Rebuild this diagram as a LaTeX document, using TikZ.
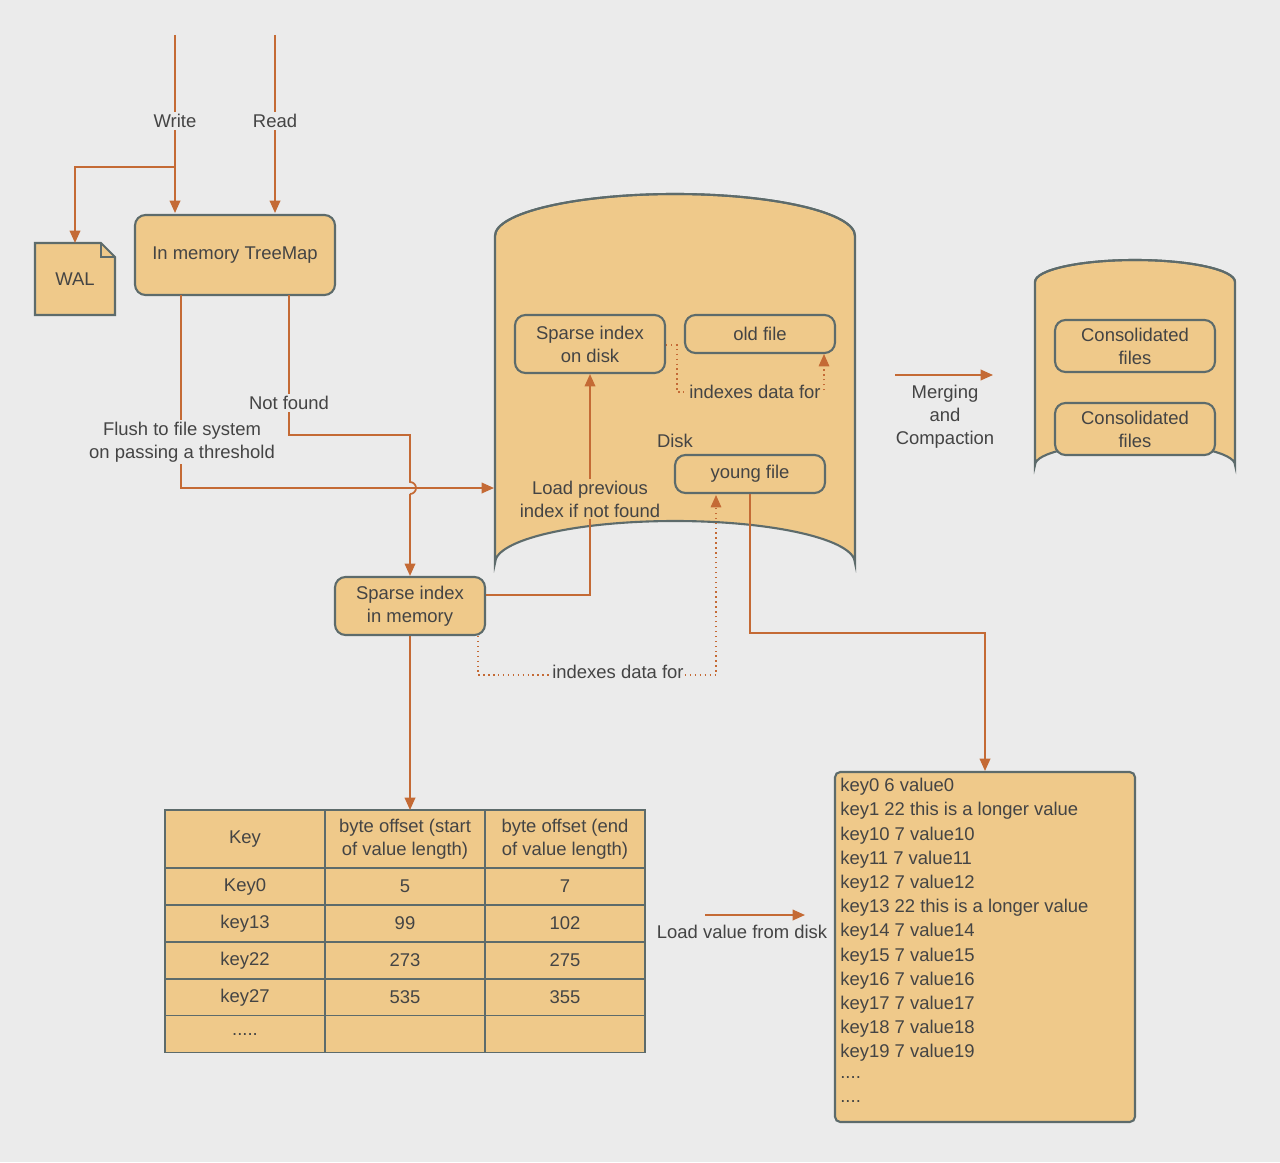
\documentclass[tikz,border=0pt]{standalone}
\usepackage{fontspec}
\setmainfont{Liberation Sans}
\usetikzlibrary{arrows.meta,shapes.geometric}
\definecolor{bg}{HTML}{EBEBEB}
\definecolor{fillc}{HTML}{EFC98A}
\definecolor{edge}{HTML}{5D6B6B}
\definecolor{arr}{HTML}{C46A35}
\definecolor{txt}{HTML}{444444}
\newcommand\myfivedots{.{}.{}.{}.{}.}
\newcommand\myfourdots{.{}.{}.{}.}
\begin{document}
\begin{tikzpicture}[x=0.02cm,y=-0.02cm,
  every node/.style={text=txt,font=\fontsize{10.5}{13}\selectfont},
  box/.style={draw=edge,fill=fillc,line width=1.2pt,rounded corners=6pt,align=center,inner sep=0pt},
  cell/.style={draw=edge,fill=fillc,line width=0.8pt,align=center,inner sep=0pt},
  ar/.style={draw=arr,line width=1pt,-{Triangle[length=7pt,width=6pt]}},
  ln/.style={draw=arr,line width=1pt},
  dt/.style={draw=arr,line width=0.8pt,dotted,-{Triangle[length=7pt,width=6pt]}},
  lbl/.style={fill=bg,inner sep=1pt,align=center}]
\fill[bg] (0,0) rectangle (1280,1162);
% big cylinder
\filldraw[fill=fillc,draw=edge,line width=1.2pt] (495,236) -- (495,563) arc[start angle=180,end angle=360,x radius=180,y radius=42] -- (855,236) arc[start angle=0,end angle=-180,x radius=180,y radius=42];
\draw[edge,line width=1.2pt] (495,236) arc[start angle=180,end angle=360,x radius=180,y radius=42];
% small cylinder
\filldraw[fill=fillc,draw=edge,line width=1.2pt] (1035,282) -- (1035,465) arc[start angle=180,end angle=360,x radius=100,y radius=22] -- (1235,282) arc[start angle=0,end angle=-180,x radius=100,y radius=22];
\draw[edge,line width=1.2pt] (1035,282) arc[start angle=180,end angle=360,x radius=100,y radius=22];
% WAL
\filldraw[fill=fillc,draw=edge,line width=1.2pt] (35,243) -- (101,243) -- (115,257) -- (115,315) -- (35,315) -- cycle;
\draw[edge,line width=1pt] (101,243) -- (101,257) -- (115,257);
\node (wal) at (75,279) {WAL};
\coordinate (walt) at (75,243);
% nodes
\node[box,minimum width=200*0.02cm,minimum height=80*0.02cm] (tm) at (235,255) {In memory TreeMap};
\node[box,minimum width=150*0.02cm,minimum height=58*0.02cm] (sd) at (590,344) {Sparse index\\on disk};
\node[box,minimum width=150*0.02cm,minimum height=38*0.02cm] (old) at (760,334) {old file};
\node[box,minimum width=150*0.02cm,minimum height=38*0.02cm] (young) at (750,474) {young file};
\node at (675,441) {Disk};
\node[box,minimum width=150*0.02cm,minimum height=58*0.02cm] (sm) at (410,606) {Sparse index\\in memory};
\node[box,minimum width=160*0.02cm,minimum height=52*0.02cm] (c1) at (1135,346) {Consolidated\\files};
\node[box,minimum width=160*0.02cm,minimum height=52*0.02cm] (c2) at (1135,429) {Consolidated\\files};
% write/read
\coordinate (w0) at (175,35); \coordinate (r0) at (275,35);
\draw[ar] (w0) -- (175,213);
\draw[ar] (175,167) -- (75,167) -- (walt);
\draw[ar] (r0) -- (275,213);
\node[lbl] at (175,121) {Write};
\node[lbl] at (275,121) {Read};
% flush
\coordinate (cylL) at (494,488);
\draw[ar] (181,295) -- (181,488) -- (cylL);
\node[lbl] at (182,442) {Flush to file system\\on passing a threshold};
% not found with jump
\draw[ln] (289,295) -- (289,435) -- (410,435) -- (410,482) arc[start angle=-90,end angle=90,radius=6];
\draw[ar] (410,494) -- (sm.north);
\node[lbl] at (289,403) {Not found};
% load previous
\draw[ar] (sm.east |- 0,595) -- (590,595) -- (sd.south);
\node[fill=fillc,inner sep=1pt,align=center] at (590,499) {Load previous\\index if not found};
% dotted old
\draw[dt] (sd.east |- 0,345) -- (677,345) -- (677,392) -- (824,392) -- (824,354);
\node[fill=fillc,inner sep=1pt] at (755,392) {indexes data for};
% dotted young
\draw[dt] (478,636) -- (478,675) -- (716,675) -- (716,495);
\node[lbl] at (618,672) {indexes data for};
% merging
\coordinate (m0) at (895,375); \coordinate (m1) at (993,375);
\draw[ar] (m0) -- (m1);
\node[align=center] at (945,417) {Merging\\and\\Compaction};
% table
\node[cell,minimum width=160*0.02cm,minimum height=58*0.02cm] (tk) at (245,839) {Key};
\node[cell,minimum width=160*0.02cm,minimum height=58*0.02cm] at (405,839) {byte offset (start\\of value length)};
\node[cell,minimum width=160*0.02cm,minimum height=58*0.02cm] at (565,839) {byte offset (end\\of value length)};
\foreach \y/\a/\b/\c in {886.5/Key0/5/7,923.5/key13/99/102,960.5/key22/273/275,997.5/key27/535/355,1034/\myfivedots/ / }{
  \node[cell,minimum width=160*0.02cm,minimum height=37*0.02cm] at (245,\y) {\a};
  \node[cell,minimum width=160*0.02cm,minimum height=37*0.02cm] at (405,\y) {\b};
  \node[cell,minimum width=160*0.02cm,minimum height=37*0.02cm] at (565,\y) {\c};
}
\coordinate (tt) at (410,810);
\draw[ar] (sm.south) -- (tt);
% load value
\coordinate (l0) at (705,915); \coordinate (l1) at (805,915);
\draw[ar] (l0) -- (l1);
\node at (742,932) {Load value from disk};
% big box
\filldraw[fill=fillc,draw=edge,line width=1.2pt,rounded corners=3pt] (835,772) rectangle (1135,1122);
\coordinate (bt) at (985,771);
\draw[ar] (young.south) -- (750,633) -- (985,633) -- (bt);
\foreach \t [count=\i from 0] in {key0 6 value0,key1 22 this is a longer value,key10 7 value10,key11 7 value11,key12 7 value12,key13 22 this is a longer value,key14 7 value14,key15 7 value15,key16 7 value16,key17 7 value17,key18 7 value18,key19 7 value19,\myfourdots,\myfourdots}
  \node[anchor=west,inner sep=0pt] at (840,787+24.2*\i) {\t};
\end{tikzpicture}
\end{document}
